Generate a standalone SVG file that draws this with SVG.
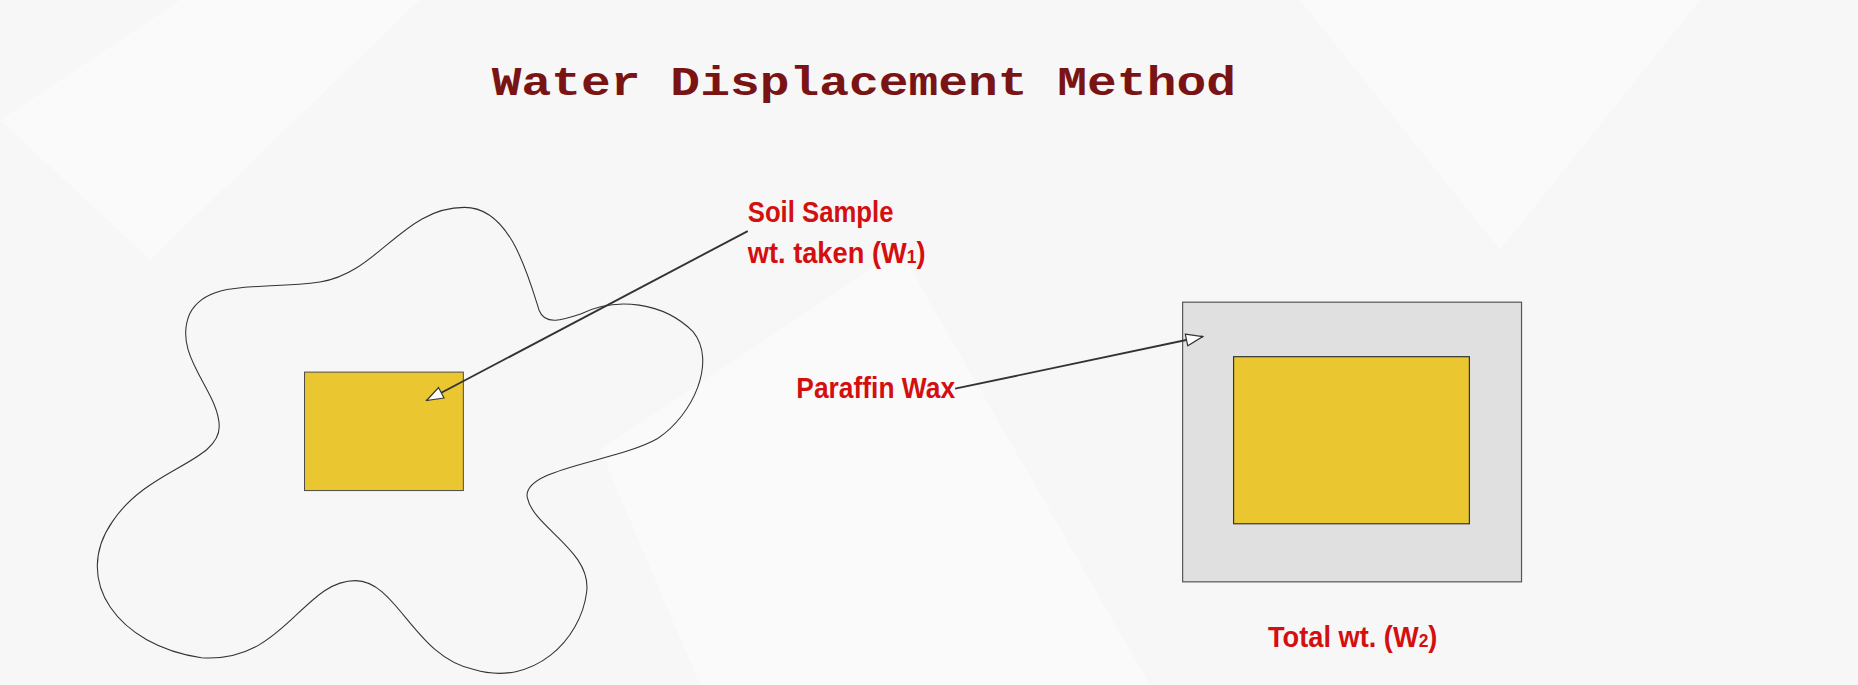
<svg xmlns="http://www.w3.org/2000/svg" width="1858" height="685" viewBox="0 0 1858 685">
<style>
.lbl{font-family:"Liberation Sans",Arial,sans-serif;font-weight:bold;fill:#d40f0f;font-size:25px}
.ttl{font-family:"Liberation Mono","Courier New",monospace;font-weight:bold;fill:#7a1414;font-size:34px}
.con{stroke:#333;stroke-width:1.6;fill:none}
</style>
<defs>
<marker id="ah" markerWidth="16" markerHeight="12" refX="15" refY="6" orient="auto" markerUnits="userSpaceOnUse">
<path d="M1,1 L15,6 L1,11 Z" fill="#fff" stroke="#333" stroke-width="1"/>
</marker>
</defs>
<rect width="1858" height="685" fill="#f7f7f7"/>
<g fill="#ffffff" opacity="0.35">
<polygon points="0,120 180,0 420,0 150,260"/>
<polygon points="1300,0 1700,0 1500,250"/>
<polygon points="600,450 900,250 1150,685 700,685"/>
</g>
<g transform="scale(1.185)">
<g id="title"><text class="ttl" x="415" y="80" textLength="628" lengthAdjust="spacingAndGlyphs">Water Displacement Method</text></g>
<g id="blob"><path d="M392,175 C430,175 445,230 455,262 C460,275 475,270 490,265 C520,250 560,255 585,280 C605,305 585,350 555,370 C520,390 440,395 445,420 C450,445 500,465 495,500 C490,540 450,580 400,565 C350,555 335,490 300,490 C255,490 240,560 170,555 C100,545 60,490 95,440 C125,395 185,390 185,360 C185,330 145,300 160,265 C175,235 220,245 270,238 C320,230 340,175 392,175 Z" fill="none" stroke="#333" stroke-width="0.9"/></g>
<g id="sample"><rect x="257" y="314" width="134" height="100" fill="#eac631" stroke="#444" stroke-width="0.8"/></g>
<g id="waxed"><rect x="998" y="255" width="286" height="236" fill="#e0e0e0" stroke="#555" stroke-width="1"/>
<rect x="1041" y="301" width="199" height="141" fill="#eac631" stroke="#333" stroke-width="1"/></g>
<g id="connectors">
<line class="con" x1="631" y1="195" x2="360" y2="338" marker-end="url(#ah)"/>
<line class="con" x1="806" y1="328" x2="1015" y2="284" marker-end="url(#ah)"/>
</g>
<g id="labels">
<text class="lbl" x="631" y="187" textLength="123" lengthAdjust="spacingAndGlyphs">Soil Sample</text>
<text class="lbl" x="631" y="222" textLength="150" lengthAdjust="spacingAndGlyphs">wt. taken (W<tspan font-size="16">1</tspan>)</text>
<text class="lbl" x="672" y="336" textLength="134" lengthAdjust="spacingAndGlyphs">Paraffin Wax</text>
<text class="lbl" x="1070" y="546" textLength="143" lengthAdjust="spacingAndGlyphs">Total wt. (W<tspan font-size="16">2</tspan>)</text>
</g>
</g>
</svg>
